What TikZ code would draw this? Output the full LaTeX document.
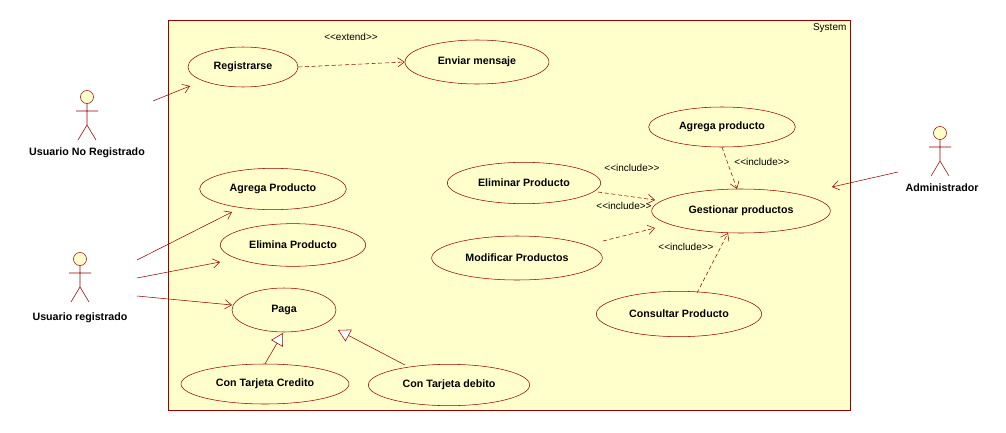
\documentclass[tikz,border=0pt]{standalone}
\usepackage{fontspec}
\setmainfont{Liberation Sans}
\usetikzlibrary{shapes.geometric,arrows.meta}
\definecolor{ln}{HTML}{990000}
\definecolor{bg}{HTML}{FFFFCC}
\begin{document}
\begin{tikzpicture}[x=0.75pt,y=-0.75pt,
 uc/.style={ellipse,draw=ln,fill=bg,font=\bfseries\fontsize{8}{9}\selectfont,inner sep=0pt},
 lab/.style={font=\fontsize{7.5}{9}\selectfont,inner sep=1pt},
 assoc/.style={draw=ln,-{Straight Barb[length=5pt,width=7pt]}},
 dep/.style={draw=ln,densely dashed,-{Straight Barb[length=5pt,width=7pt]}},
 gen/.style={draw=ln,-{Triangle[open,length=9pt,width=10pt,fill=white]}},
 actl/.style={font=\bfseries\fontsize{8}{9}\selectfont}]
\useasboundingbox (0,0) rectangle (1006,432);
\fill[white] (0,0) rectangle (1006,432);
\draw[ln,fill=bg] (168,20) rectangle (850,410);
\node[lab,anchor=north east] (sys) at (848,22) {System};
\newcommand\actor[2]{%
 \begin{scope}[shift={(#1,#2)},draw=ln]
 \draw[ln,fill=bg] (0,0) circle (6.5);
 \draw[ln] (0,6.5) -- (0,28) (-11,14) -- (11,14) (0,28) -- (-9,43) (0,28) -- (9,43);
 \end{scope}}
\actor{87}{97}
\actor{80}{259}
\actor{940}{133}
\node[actl] (a1) at (87,153) {Usuario No Registrado};
\node[actl] (a2) at (80,318) {Usuario registrado};
\node[actl] (a3) at (942,188) {Administrador};
\coordinate (p1) at (153,101);
\coordinate (p2a) at (137,260);
\coordinate (p2b) at (137,278);
\coordinate (p2c) at (137,296);
\coordinate (p3) at (898,172);
\node[uc,minimum width=110\pgflinewidth*0+82.5pt,minimum height=30pt] (reg) at (243,67) {Registrarse};
\node[uc,minimum width=108pt,minimum height=33pt] (env) at (477,62) {Enviar mensaje};
\node[uc,minimum width=110pt,minimum height=30pt] (agp) at (722,127) {Agrega producto};
\node[uc,minimum width=115pt,minimum height=31pt] (eli) at (524,183) {Eliminar Producto};
\node[uc,minimum width=134pt,minimum height=33pt] (ges) at (741,211) {Gestionar productos};
\node[uc,minimum width=128pt,minimum height=33pt] (mod) at (517,258) {Modificar Productos};
\node[uc,minimum width=124pt,minimum height=34pt] (con) at (679,314) {Consultar Producto};
\node[uc,minimum width=110pt,minimum height=31pt] (agP) at (273,189) {Agrega Producto};
\node[uc,minimum width=109pt,minimum height=32pt] (elP) at (293,245) {Elimina Producto};
\node[uc,minimum width=78pt,minimum height=33pt] (pag) at (284,310) {Paga};
\node[uc,minimum width=126pt,minimum height=30pt] (cre) at (265,384) {Con Tarjeta Credito};
\node[uc,minimum width=121pt,minimum height=31pt] (deb) at (449,385) {Con Tarjeta debito};
\draw[assoc] (p1) -- (190,86);
\draw[assoc] (p2a) -- (232,212);
\draw[assoc] (p2b) -- (220,262);
\draw[assoc] (p2c) -- (232,305);
\draw[assoc] (p3) -- (832,187);
\draw[dep] (reg.east) -- (env.west);
\node[lab] (ext) at (351,37) {<{}<extend>{}>};
\draw[dep] (598,192) -- (655,200);
\node[lab] (i1) at (632,168) {<{}<include>{}>};
\node[lab] (i2) at (624,206) {<{}<include>{}>};
\draw[dep] (603,241) -- (655,228);
\draw[dep] (agp.south) -- (737,189);
\node[lab] (i3) at (762,162) {<{}<include>{}>};
\draw[dep] (697,293) -- (728,233);
\node[lab] (i4) at (686,247) {<{}<include>{}>};
\draw[gen] (cre.north) -- (283,333);
\draw[gen] (405,365) -- (338,330);
\end{tikzpicture}
\end{document}
